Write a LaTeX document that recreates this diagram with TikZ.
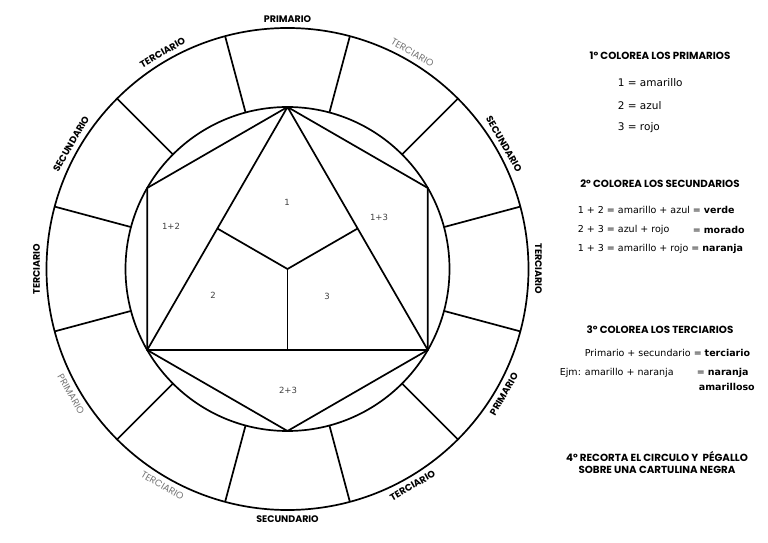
\documentclass[tikz,border=0pt]{standalone}
\usepackage{fontspec}
\setmainfont{DejaVu Sans}
\newfontfamily\gothic{Poppins}
\begin{document}
\begin{tikzpicture}[x=1pt,y=1pt,line width=1.7pt,line join=round]
  \tikzstyle{ring}=[font=\gothic\bfseries\fontsize{9.5}{10}\selectfont,inner sep=1pt]
  \tikzstyle{ringlight}=[font=\gothic\fontsize{9.5}{10}\selectfont,text=black!55,inner sep=1pt]
  \tikzstyle{num}=[font=\fontsize{8.5}{10}\selectfont,text=black!75]
  \tikzstyle{head}=[font=\gothic\bfseries\fontsize{10.3}{12}\selectfont,inner sep=1pt]
  \tikzstyle{rule}=[font=\fontsize{9.5}{11}\selectfont,anchor=west,inner sep=0pt]
  \useasboundingbox (-287.5,-274) rectangle (480.5,269);
  % circles
  \coordinate (O) at (0,0);
  \draw (O) circle (162pt);
  \draw (O) circle (241pt);
  % ring dividers
  \draw (15:162) -- (15:241);
  \draw (45:162) -- (45:241);
  \draw (75:162) -- (75:241);
  \draw (105:162) -- (105:241);
  \draw (135:162) -- (135:241);
  \draw (165:162) -- (165:241);
  \draw (195:162) -- (195:241);
  \draw (225:162) -- (225:241);
  \draw (255:162) -- (255:241);
  \draw (285:162) -- (285:241);
  \draw (315:162) -- (315:241);
  \draw (345:162) -- (345:241);
  % ring labels
  \node[ring] (p90) at (90:250) {PRIMARIO};
  \node[ringlight,rotate=-30] (t60) at (60:250) {TERCIARIO};
  \node[ring,rotate=-60] (s30) at (30:250) {SECUNDARIO};
  \node[ring,rotate=-90] (t0) at (0:251) {TERCIARIO};
  \node[ring,rotate=60] (p330) at (330:250) {PRIMARIO};
  \node[ring,rotate=30] (t300) at (300:250) {TERCIARIO};
  \node[ring] (s270) at (270:250) {SECUNDARIO};
  \node[ringlight,rotate=-30] (t240) at (240:250) {TERCIARIO};
  \node[ringlight,rotate=-60] (p210) at (210:250) {PRIMARIO};
  \node[ring,rotate=90] (t180) at (180:251) {TERCIARIO};
  \node[ring,rotate=60] (s150) at (150:250) {SECUNDARIO};
  \node[ring,rotate=30] (t120) at (120:250) {TERCIARIO};
  % hexagon and triangle
  \coordinate (A) at (90:162);
  \coordinate (B) at (150:162);
  \coordinate (C) at (30:162);
  \coordinate (D) at (210:162);
  \coordinate (E) at (330:162);
  \coordinate (F) at (270:162);
  \draw (A) -- (B) -- (D) -- (F) -- (E) -- (C) -- cycle;
  \draw (A) -- (D) -- (E) -- cycle;
  \coordinate (AD) at (150:81);
  \coordinate (AE) at (30:81);
  \coordinate (DE) at (270:81);
  \draw (O) -- (AD);
  \draw (O) -- (AE);
  \draw (O) -- (DE);
  % numbers
  \node[num] (n1) at (-0.5,67) {1};
  \node[num] (n13) at (91.5,52) {1+3};
  \node[num] (n12) at (-116.5,43) {1+2};
  \node[num] (n2) at (-74.5,-26) {2};
  \node[num] (n3) at (39.5,-27) {3};
  \node[num] (n23) at (0.5,-121) {2+3};
  % instructions
  \node[head] (step1) at (372.5,213) {1º COLOREA LOS PRIMARIOS};
  \node[rule,font=\fontsize{10.5}{12}\selectfont] (amarillo) at (329.5,186) {1 = amarillo};
  \node[rule,font=\fontsize{10.5}{12}\selectfont] (azul) at (329.5,163) {2 = azul};
  \node[rule,font=\fontsize{10.5}{12}\selectfont] (rojo) at (329.5,141) {3 = rojo};
  \node[head] (step2) at (372.5,85) {2º COLOREA LOS SECUNDARIOS};
  \node[rule] (verde) at (289.5,59) {1 + 2 = amarillo + azul = \textbf{verde}};
  \node[rule] (azulrojo) at (289.5,39) {2 + 3 = azul + rojo};
  \node[rule] (morado) at (404.5,39) {= \textbf{morado}};
  \node[rule] (naranja) at (289.5,20) {1 + 3 = amarillo + rojo = \textbf{naranja}};
  \node[head] (step3) at (372.5,-61) {3º COLOREA LOS TERCIARIOS};
  \node[rule,anchor=east] (terciario) at (463.5,-84) {Primario + secundario = \textbf{terciario}};
  \node[rule] (ejm) at (271.5,-104) {Ejm: amarillo + naranja};
  \node[rule] (ejmres) at (408.5,-104) {= \textbf{naranja}};
  \node[rule] (amarilloso) at (410.5,-118) {\textbf{amarilloso}};
  \node[head] (step4a) at (369.5,-188) {4º RECORTA EL CIRCULO Y~ PÉGALLO};
  \node[head] (step4b) at (369.5,-201) {SOBRE UNA CARTULINA NEGRA};
\end{tikzpicture}
\end{document}
